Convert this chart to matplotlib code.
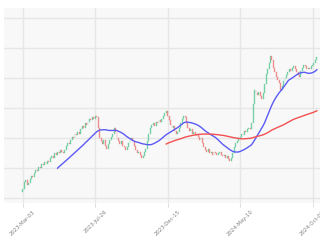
import matplotlib
matplotlib.use("Agg")
import matplotlib.pyplot as plt
import numpy as np
import pandas as pd

# closing prices, one value every 2 trading days (index step 2)
closes = [
    106, 111, 112, 109, 110, 113, 115, 114, 117, 119,
    118, 121, 120, 123, 122, 124, 123, 125, 124, 127,
    128, 127, 130, 129, 131, 130, 132, 131, 130, 132,
    135, 137, 136, 139, 141, 140, 143, 142, 144, 143,
    146, 148, 147, 150, 149, 151, 153, 152, 154, 153,
    155, 154, 147, 140, 138, 136, 139, 135, 133, 136,
    139, 141, 143, 147, 144, 140, 138, 136, 138, 135,
    134, 132, 134, 137, 139, 140, 138, 135, 132, 130,
    131, 129, 127, 128, 131, 133, 138, 143, 147, 149,
    150, 148, 151, 150, 152, 151, 153, 155, 157, 158,
    155, 152, 149, 147, 148, 145, 143, 144, 147, 150,
    153, 155, 154, 150, 147, 145, 146, 143, 144, 142,
    143, 141, 139, 140, 137, 134, 132, 131, 133, 130,
    131, 129, 131, 130, 129, 130, 131, 129, 128, 129,
    127, 128, 126, 125, 127, 130, 134, 137, 138, 140,
    141, 143, 142, 145, 144, 146, 147, 146, 150, 163,
    172, 170, 169, 171, 168, 166, 170, 176, 183, 186,
    190, 195, 192, 187, 184, 181, 179, 177, 172, 175,
    178, 180, 182, 184, 186, 185, 187, 188, 186, 184,
    182, 181, 185, 187, 189, 188, 186, 187, 186, 188,
    189, 190, 192, 194,
]
tick_labels = ["2023-Mar-03", "2023-Jul-26", "2023-Dec-15", "2024-May-10", "2024-Oct-02"]
tick_index = [0, 100, 200, 300, 400]
grid_prices = [100, 120, 140, 160, 180, 200, 220]

step = 2
c = np.array(closes, dtype=float)
o = np.concatenate([[c[0] - 2], c[:-1]])
idx = np.arange(len(c)) * step

s = pd.Series(c)
ma_fast = s.rolling(50 // step).mean()
ma_slow = s.rolling(200 // step).mean()

fig = plt.figure(figsize=(3.2, 2.4), dpi=100)
ax = fig.add_axes([4 / 320, 37 / 240, 323 / 320, 195 / 240])
ax.set_facecolor("#f8f8f8")

up_col = "#5cc995"
dn_col = "#e87a78"
for xi, oo, cc in zip(idx, o, c):
    col = up_col if cc >= oo else dn_col
    lo, hi = min(oo, cc), max(oo, cc)
    ax.bar(xi, max(hi - lo, 0.6), bottom=lo, width=1.3, color=col,
           edgecolor=col, linewidth=0.3, alpha=0.75, zorder=2)

ax.plot(idx, ma_fast, color="#5a5af5", lw=1.0, zorder=3)
ax.plot(idx, ma_slow, color="#f25050", lw=1.0, zorder=3)

ax.set_xlim(-26, 420)
ax.set_ylim(96.7, 226.7)
ax.set_yticks(grid_prices)
ax.set_yticklabels([])
ax.tick_params(axis="y", length=0)
ax.set_xticks(tick_index)
ax.set_xticklabels(tick_labels, rotation=45, ha="center", fontsize=3.8, color="#808080")
ax.tick_params(axis="x", length=3, color="#d8d8d8", width=0.6, pad=1.5)
ax.grid(True, color="#e6e6e6", lw=1.0, zorder=0)
for sp in ax.spines.values():
    sp.set_visible(False)

fig.savefig("out.png", dpi=100)
